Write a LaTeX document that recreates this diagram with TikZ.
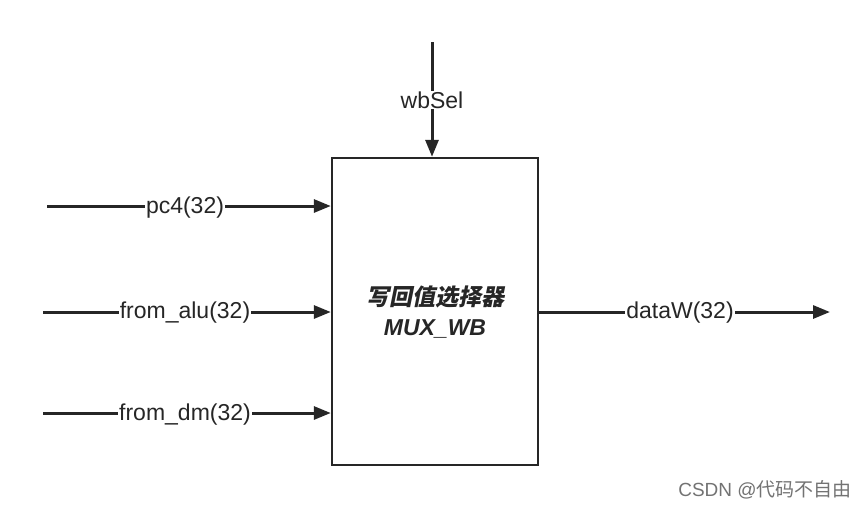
\documentclass[tikz,border=0pt]{standalone}
\usepackage{fontspec}
\setmainfont{Liberation Sans}
\newfontfamily\cjk{Noto Sans CJK SC}
\newfontfamily\cjki{Noto Sans CJK SC}[FakeSlant=0.2]
\usetikzlibrary{arrows.meta}
\begin{document}
\begin{tikzpicture}[x=1pt,y=-1pt,
  wire/.style={line width=3pt,-{Triangle[length=17pt,width=13pt]},draw=black!85},
  lab/.style={fill=white,inner sep=1pt,font=\fontsize{23}{26}\selectfont,text=black!85}]
\useasboundingbox (0,0) rectangle (865,509);
\fill[white] (0,0) rectangle (865,509);
\node[draw=black!85,line width=2.4pt,minimum width=206pt,minimum height=307pt,inner sep=0] (box) at (435,311.5) {};
\node[font=\fontsize{23}{30}\selectfont\bfseries\itshape,align=center,text=black!85] (t) at (435,312) {{\cjki 写回值选择器}\\MUX\_WB};
\coordinate (w0) at (432,42);
\coordinate (p0) at (47,206);
\coordinate (a0) at (43,312);
\coordinate (d0) at (43,413);
\coordinate (o1) at (830,312);
\draw[wire] (w0) -- (box.north -| w0);
\draw[wire] (p0) -- (p0 -| box.west);
\draw[wire] (a0) -- (a0 -| box.west);
\draw[wire] (d0) -- (d0 -| box.west);
\draw[wire] (a0 -| box.east) -- (o1);
\node[lab] (lw) at (432,100) {wbSel};
\node[lab] (lp) at (185,208) {pc4(32)};
\node[lab] (la) at (185,313) {from\_alu(32)};
\node[lab] (ld) at (185,415) {from\_dm(32)};
\node[lab] (lo) at (680,313) {dataW(32)};
\node[font=\fontsize{19}{22}\selectfont,text=black!55] (wm) at (765,490) {CSDN @{\cjk 代码不自由}};
\end{tikzpicture}
\end{document}
